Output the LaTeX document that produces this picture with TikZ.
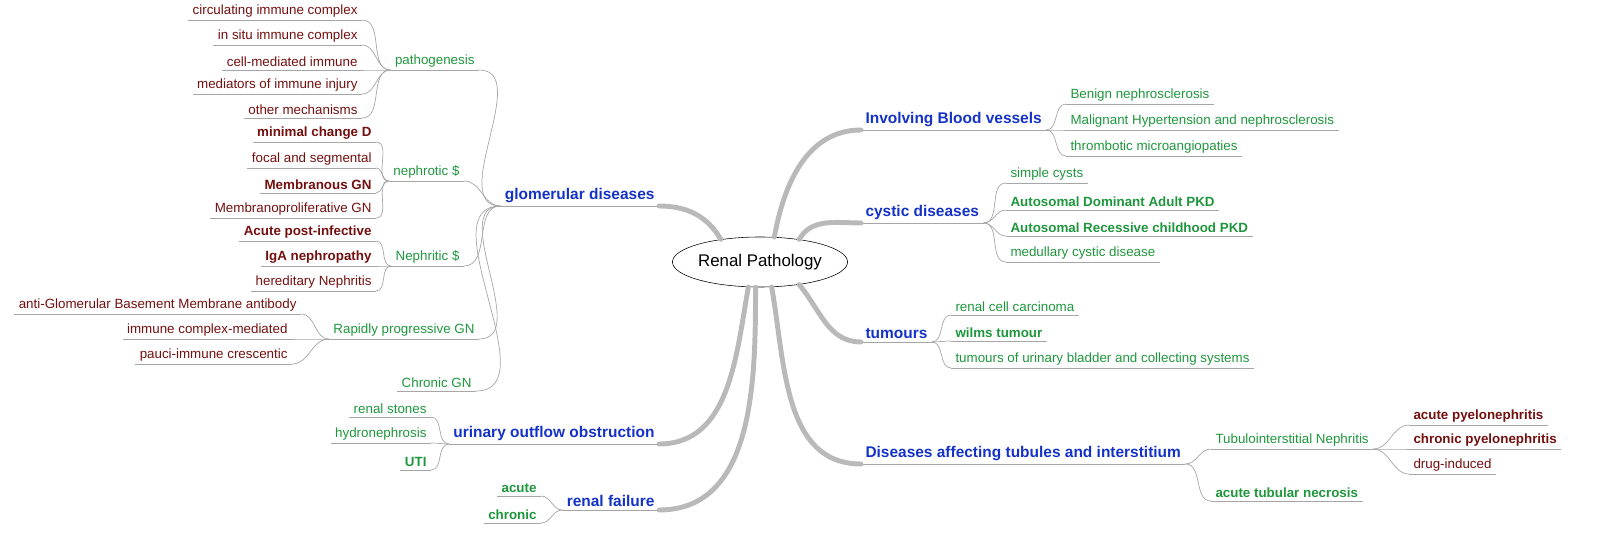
\documentclass[tikz,border=0pt]{standalone}
\usepackage{fontspec}
\setmainfont{Liberation Sans}
\usetikzlibrary{shapes.geometric}
\definecolor{mapblue}{RGB}{20,50,200}
\definecolor{mapgreen}{RGB}{30,150,60}
\definecolor{mapred}{RGB}{115,15,15}
\tikzset{
  lbl/.style={inner xsep=3pt, inner ysep=2pt, font=\fontsize{9.5}{11}\selectfont},
  main/.style={lbl, text=mapblue, font=\fontsize{11}{13}\selectfont\bfseries},
  sub/.style={lbl, text=mapgreen},
  subb/.style={sub, font=\fontsize{9.5}{11}\selectfont\bfseries},
  leaf/.style={lbl, text=mapred},
  leafb/.style={leaf, font=\fontsize{9.5}{11}\selectfont\bfseries},
  R/.style={anchor=south west},
  L/.style={anchor=south east},
  line/.style={draw=gray!70, line width=0.5pt},
  trunk/.style={draw=gray!55, line width=3.5pt, line cap=round},
}
\newcommand{\ul}[1]{\draw[line] (#1.south west) -- (#1.south east);}
\begin{document}
\begin{tikzpicture}[x=0.025cm, y=-0.025cm]
\useasboundingbox (0,0) rectangle (1600,536);

\node[draw, ellipse, inner sep=0pt, minimum width=4cm, minimum height=1.25cm, font=\fontsize{12}{14}\selectfont] (root) at (760,262) {Renal Pathology};

% right side
\node[main,R] (bv) at (861,130) {Involving Blood vessels};
\node[main,R] (cy) at (861,223) {cystic diseases};
\node[main,R] (tu) at (861,342) {tumours};
\node[main,R] (ti) at (861,464) {Diseases affecting tubules and interstitium};

\node[sub,R]  (bv1) at (1066,104) {Benign nephrosclerosis};
\node[sub,R]  (bv2) at (1066,130) {Malignant Hypertension and nephrosclerosis};
\node[sub,R]  (bv3) at (1066,156) {thrombotic microangiopaties};

\node[sub,R]  (cy1) at (1006,183) {simple cysts};
\node[subb,R] (cy2) at (1006,210) {Autosomal Dominant Adult PKD};
\node[subb,R] (cy3) at (1006,236) {Autosomal Recessive childhood PKD};
\node[sub,R]  (cy4) at (1006,262) {medullary cystic disease};

\node[sub,R]  (tu1) at (951,315) {renal cell carcinoma};
\node[subb,R] (tu2) at (951,341) {wilms tumour};
\node[sub,R]  (tu3) at (951,368) {tumours of urinary bladder and collecting systems};

\node[sub,R]  (ti1) at (1211,449) {Tubulointerstitial Nephritis};
\node[subb,R] (ti2) at (1211,501) {acute tubular necrosis};

\node[leafb,R] (tn1) at (1409,425) {acute pyelonephritis};
\node[leafb,R] (tn2) at (1409,449) {chronic pyelonephritis};
\node[leaf,R]  (tn3) at (1409,474) {drug-induced};

% left side
\node[main,L] (gd) at (659,206) {glomerular diseases};
\node[main,L] (uo) at (659,444) {urinary outflow obstruction};
\node[main,L] (rf) at (659,510) {renal failure};

\node[sub,L] (pa) at (479,70)  {pathogenesis};
\node[sub,L] (ns) at (464,181) {nephrotic \$};
\node[sub,L] (nt) at (464,266) {Nephritic \$};
\node[sub,L] (rp) at (479,339) {Rapidly progressive GN};
\node[sub,L] (cg) at (476,391) {Chronic GN};

\node[leaf,L]  (pa1) at (362,20)  {circulating immune complex};
\node[leaf,L]  (pa2) at (362,45)  {in situ immune complex};
\node[leaf,L]  (pa3) at (362,70)  {cell-mediated immune};
\node[leaf,L]  (pa4) at (362,94)  {mediators of immune injury};
\node[leaf,L]  (pa5) at (362,118) {other mechanisms};

\node[leafb,L] (ns1) at (376,142) {minimal change D};
\node[leaf,L]  (ns2) at (376,168) {focal and segmental};
\node[leafb,L] (ns3) at (376,193) {Membranous GN};
\node[leaf,L]  (ns4) at (376,218) {Membranoproliferative GN};

\node[leafb,L] (nt1) at (376,241) {Acute post-infective};
\node[leafb,L] (nt2) at (376,266) {IgA nephropathy};
\node[leaf,L]  (nt3) at (376,291) {hereditary Nephritis};

\node[leaf,L]  (rp1) at (301,314) {anti-Glomerular Basement Membrane antibody};
\node[leaf,L]  (rp2) at (292,339) {immune complex-mediated};
\node[leaf,L]  (rp3) at (292,364) {pauci-immune crescentic};

\node[sub,L]  (uo1) at (431,417) {renal stones};
\node[sub,L]  (uo2) at (431,443) {hydronephrosis};
\node[subb,L] (uo3) at (431,470) {UTI};

\node[subb,L] (rf1) at (541,496) {acute};
\node[subb,L] (rf2) at (541,523) {chronic};

% underlines
\foreach \n in {bv,cy,tu,ti,bv1,bv2,bv3,cy1,cy2,cy3,cy4,tu1,tu2,tu3,ti1,ti2,tn1,tn2,tn3,
  gd,uo,rf,pa,ns,nt,rp,cg,pa1,pa2,pa3,pa4,pa5,ns1,ns2,ns3,ns4,nt1,nt2,nt3,rp1,rp2,rp3,
  uo1,uo2,uo3,rf1,rf2}{\ul{\n}}

% trunks
\draw[trunk] (root.60)  to[out=80,in=180]  (bv.south west);
\draw[trunk] (root.30)  to[out=60,in=180]  (cy.south west);
\draw[trunk] (root.-30) to[out=-50,in=180] (tu.south west);
\draw[trunk] (root.-65) to[out=-80,in=180] (ti.south west);
\draw[trunk] (root.150) to[out=120,in=0]   (gd.south east);
\draw[trunk] (root.-115) to[out=-100,in=0] (uo.south east);
\draw[trunk] (root.-100) to[out=-90,in=0]  (rf.south east);

% branches
\foreach \p/\c in {bv/bv1,bv/bv2,bv/bv3,cy/cy1,cy/cy2,cy/cy3,cy/cy4,tu/tu1,tu/tu2,tu/tu3,
  ti/ti1,ti/ti2,ti1/tn1,ti1/tn2,ti1/tn3}
  {\draw[line] (\p.south east) to[out=0,in=180] (\c.south west);}
\foreach \p/\c in {gd/pa,gd/ns,gd/nt,gd/rp,gd/cg,pa/pa1,pa/pa2,pa/pa3,pa/pa4,pa/pa5,
  ns/ns1,ns/ns2,ns/ns3,ns/ns4,nt/nt1,nt/nt2,nt/nt3,rp/rp1,rp/rp2,rp/rp3,
  uo/uo1,uo/uo2,uo/uo3,rf/rf1,rf/rf2}
  {\draw[line] (\p.south west) to[out=180,in=0] (\c.south east);}
\end{tikzpicture}
\end{document}
